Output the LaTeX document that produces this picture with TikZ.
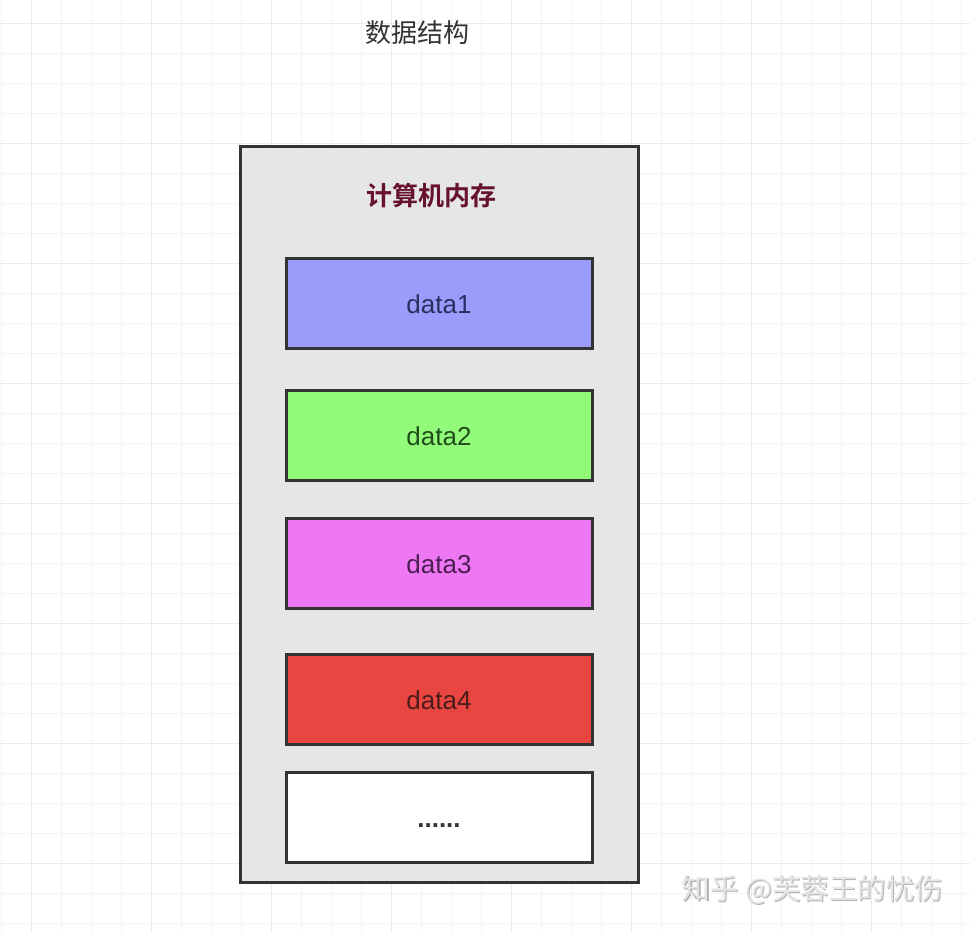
\documentclass[tikz,border=0pt]{standalone}
\usepackage{fontspec}
\setmainfont{Liberation Sans}
\newfontfamily\cjk{Noto Sans CJK SC}
\newfontfamily\cjkb{Noto Sans CJK SC}[BoldFont={Noto Sans CJK SC Bold}]
\definecolor{gridminor}{HTML}{F4F4F4}
\definecolor{gridmajor}{HTML}{EBEBEB}
\definecolor{edge}{HTML}{333333}
\definecolor{memfill}{HTML}{E6E6E6}
\definecolor{cA}{HTML}{999CFB}
\definecolor{cB}{HTML}{92FC7A}
\definecolor{cC}{HTML}{EE77F4}
\definecolor{cD}{HTML}{E94642}
\definecolor{tA}{HTML}{2B2E5E}
\definecolor{tB}{HTML}{1F4C19}
\definecolor{tC}{HTML}{4C1E52}
\definecolor{tD}{HTML}{4B1C1A}
\definecolor{memtitle}{HTML}{66112E}
\begin{document}
\begin{tikzpicture}[x=1pt,y=-1pt,
  cell/.style={draw=edge,line width=3pt,outer sep=0pt,minimum width=306pt,minimum height=90pt,inner sep=0pt,
    text height=20pt,text depth=0pt,font=\fontsize{26}{30}\selectfont,anchor=north west},
  mem/.style={draw=edge,line width=3pt,outer sep=0pt,fill=memfill,minimum width=398pt,minimum height=736pt,inner sep=0pt,anchor=north west}]
\useasboundingbox (0,0) rectangle (970,932);
\fill[white] (0,0) rectangle (970,932);
% grid
\foreach \x in {1,31,...,961} \draw[gridminor,line width=1pt] (\x,0) -- (\x,932);
\foreach \y in {23,53,...,923} \draw[gridminor,line width=1pt] (0,\y) -- (970,\y);
\foreach \x in {31,151,...,961} \draw[gridmajor,line width=1pt] (\x,0) -- (\x,932);
\foreach \y in {23,143,...,923} \draw[gridmajor,line width=1pt] (0,\y) -- (970,\y);
% title
\node[font=\cjk\fontsize{26}{30}\selectfont,text=edge] (title) at (417,33) {数据结构};
% memory box
\node[mem] (memory) at (240,146) {};
\node[font=\cjkb\bfseries\fontsize{26}{30}\selectfont,text=memtitle] (memlabel) at (431,196) {计算机内存};
\node[cell,fill=cA,text=tA] (d1) at (286,258) {data1};
\node[cell,fill=cB,text=tB] (d2) at (286,390) {data2};
\node[cell,fill=cC,text=tC] (d3) at (286,518) {data3};
\node[cell,fill=cD,text=tD] (d4) at (286,654) {data4};
\node[cell,fill=white,text=edge,font=\bfseries\fontsize{26}{30}\selectfont] (d5) at (286,772) {......};
% watermark
\node[font=\cjk\fontsize{28.5}{32}\selectfont,text=black!30] (wmshadow) at (813.8,891.3) {知乎 @芙蓉王的忧伤};
\node[font=\cjk\fontsize{28.5}{32}\selectfont,text=white!90!black] (wm) at (812.6,890.1) {知乎 @芙蓉王的忧伤};
\end{tikzpicture}
\end{document}
